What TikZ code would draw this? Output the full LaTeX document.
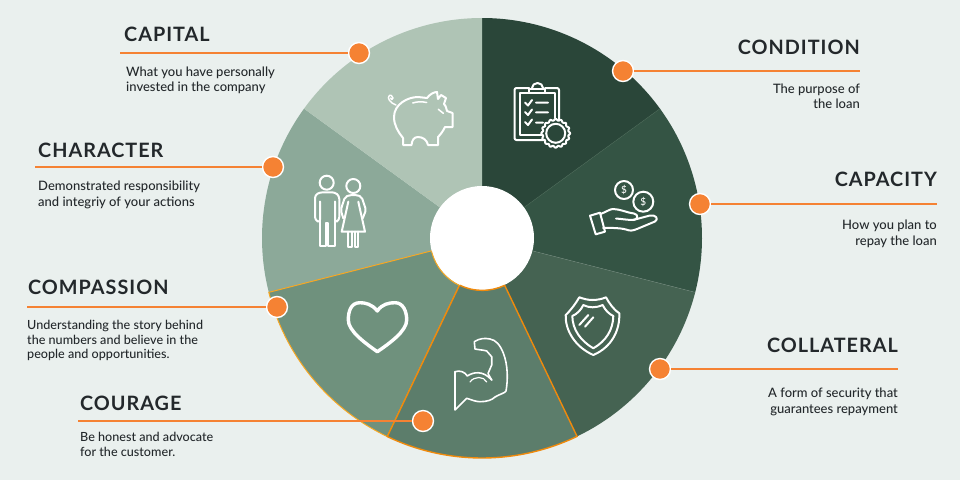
\documentclass[tikz,border=0pt]{standalone}
\usepackage{fontspec}
\setmainfont{Lato}
\newfontfamily\headfont[LetterSpace=5]{Lato Bold}
\newfontfamily\bodyfont{Lato Medium}
\usetikzlibrary{positioning}
\definecolor{paper}{HTML}{EAF0EE}
\definecolor{pinorange}{HTML}{F58233}
\definecolor{inktext}{HTML}{23282B}
\definecolor{seccond}{HTML}{2A4639}
\definecolor{seccapa}{HTML}{345444}
\definecolor{seccoll}{HTML}{456352}
\definecolor{seccour}{HTML}{5C7D6B}
\definecolor{seccomp}{HTML}{6F917D}
\definecolor{secchar}{HTML}{8CA999}
\definecolor{seccapi}{HTML}{AFC4B5}
\definecolor{edgeyellow}{HTML}{F7A823}
\definecolor{edgeorange}{HTML}{F08A0C}
\tikzset{
    head/.style={inner sep=0pt,text=inktext,font=\headfont\fontsize{19.8}{22}\selectfont},
    body/.style={inner sep=0pt,text=inktext,font=\bodyfont\fontsize{13}{15.2}\selectfont},
    smallbody/.style={body,font=\bodyfont\fontsize{12.6}{14.7}\selectfont},
    pin/.style={circle,fill=pinorange,draw=white,line width=1.4pt,minimum size=21pt,inner sep=0pt},
    leader/.style={draw=pinorange,line width=2pt},
    icon/.style={draw=white,line width=2pt,line join=round,line cap=round},
    coin/.style={icon,circle,inner sep=0pt,text=white,font=\bodyfont\fontsize{10}{10}\selectfont},
}
\begin{document}
\begin{tikzpicture}[x=1pt,y=-1pt,node distance=18pt]
    \useasboundingbox (0,0) rectangle (960,480);
    \fill[paper] (0,0) rectangle (960,480);
    % wheel
    \fill[seccond] (482,238) -- ++(-90:220) arc (-90:-36:220) -- cycle;
    \fill[seccapa] (482,238) -- ++(-36:220) arc (-36:14.3:220) -- cycle;
    \fill[seccoll] (482,238) -- ++(14.3:220) arc (14.3:64.4:220) -- cycle;
    \fill[secchar] (482,238) -- ++(165.7:220) arc (165.7:216:220) -- cycle;
    \fill[seccapi] (482,238) -- ++(216:220) arc (216:270:220) -- cycle;
    \filldraw[fill=seccomp,draw=edgeyellow,line width=1pt] (482,238) -- ++(115.5:220) arc (115.5:165.7:220) -- cycle;
    \filldraw[fill=seccour,draw=edgeorange,line width=1.4pt] (482,238) -- ++(64.4:220) arc (64.4:115.5:220) -- cycle;
    \draw[seccoll,line width=.5pt] (482,238) -- ++(-36:220);
    \draw[seccoll!80!white,line width=.4pt] (482,238) -- ++(14.3:220);
    \node[circle,fill=white,minimum size=104pt,inner sep=0pt] (hub) at (482,238) {};
    \draw[edgeyellow,line width=1pt] (hub.-165.7) arc (165.7:115.5:52);
    \draw[edgeorange,line width=1.4pt] (hub.-115.5) arc (115.5:64.4:52);
    % clipboard
    \draw[icon,rounded corners=2pt] (529,88) -- (514.5,88) -- (514.5,140) -- (549,140);
    \draw[icon,rounded corners=2pt] (545,88) -- (559,88) -- (559,120);
    \draw[icon] (529,93) rectangle (545,88.5);
    \draw[icon] (532,88) arc (180:360:5.5 and 5);
    \draw[icon] (529,93) -- (520,93) -- (520,135) -- (543,135);
    \draw[icon] (545,93) -- (555,93) -- (555,118);
    \draw[icon] (525,102.5) -- (528,105.5) -- (532,100) (536,102.7) -- (548,102.7);
    \draw[icon] (525,112) -- (528,115) -- (532,109.5) (536,112.3) -- (548,112.3);
    \draw[icon] (525,122) -- (528,125) -- (532,119.5) (536,122.7) -- (543,122.7);
    \draw[icon,fill=seccond] plot[domain=0:360,samples=129,smooth] ({555.7+(13.6+.8*cos(16*\x))*cos(\x)},{133.3+(13.6+.8*cos(16*\x))*sin(\x)}) -- cycle;
    \draw[icon] (555.7,133.3) circle (9.5);
    % hand and coins
    \node[coin,minimum size=18pt] (coin_a) at (624,190) {\$};
    \node[coin,minimum size=20pt] (coin_b) at (643.3,201.7) {\$};
    \draw[icon] (590,215.7) -- (600,212.7) -- (605,231.7) -- (595.7,234.3) -- cycle;
    \draw[icon] (600.5,214) .. controls (606,212) and (610,209) .. (613,209) .. controls (620,209) and (628,213) .. (634,213.5) .. controls (639,214.5) and (638,220) .. (633,220) .. controls (628,220) and (622,219) .. (616,218.5);
    \draw[icon] (633,220) -- (650,215.5) .. controls (656,214.5) and (659,219) .. (655,221.5) -- (637,229) .. controls (632,231) and (630,231) .. (626,229.5) .. controls (618,227.5) and (611,228) .. (603,228);
    % shield
    \draw[icon] (579.3,297.3) .. controls (584,299) and (588,300) .. (592.7,300) .. controls (597,300) and (602,299) .. (606,297.3) .. controls (609,303) and (614,310) .. (619.3,313.3) .. controls (620,330) and (612,347) .. (593.3,355) .. controls (575,347) and (565,330) .. (565.7,315) .. controls (571,310) and (576,303) .. (579.3,297.3) -- cycle;
    \draw[icon] (583.3,305) .. controls (587,306.5) and (589,307.3) .. (592.7,307.3) .. controls (596,307.3) and (599,306.5) .. (602.7,305) .. controls (605,310) and (609,314) .. (613.3,316) .. controls (613,330) and (606,341) .. (593.3,348.3) .. controls (581,341) and (572.5,330) .. (572.3,316) .. controls (577,314) and (581,310) .. (583.3,305) -- cycle;
    \draw[icon] (579.3,325) -- (588.3,315) (585,326.7) -- (593.3,317.3);
    % muscle
    \draw[icon,line width=1.6pt] (455,371.7) -- (455,410) -- (466.7,398.3) .. controls (472,400) and (476,401.7) .. (480,401.7) .. controls (487,401.7) and (492,400) .. (495,397) .. controls (500,394) and (505,393) .. (506,391) .. controls (508,380) and (508,365) .. (503.3,353) .. controls (500,345) and (496,340) .. (490,339) .. controls (485,338) and (480,338) .. (474.3,341.7) -- (475,349) .. controls (480,350) and (484,350) .. (486.7,351) -- (491.7,356.7) -- (491.7,365) -- (488,373.5) -- (491.7,380);
    \draw[icon,line width=1.6pt] (455,371.7) .. controls (460,370) and (465,372) .. (467.3,376) .. controls (473,372) and (483,370) .. (491.7,380);
    \draw[icon,line width=1.2pt] (470,382) .. controls (474,376) and (484,376) .. (486.7,382);
    % heart
    \draw[icon,line width=3.4pt] (377.3,311) .. controls (372,304) and (365,302.7) .. (360,302.7) .. controls (351,302.7) and (348.3,311) .. (348.3,320) .. controls (348.3,331) and (365,343) .. (377.3,351.7) .. controls (390,343) and (406.7,331) .. (406.7,320) .. controls (406.7,311) and (403,302.7) .. (395,302.7) .. controls (389,302.7) and (382,304) .. (377.3,311) -- cycle;
    % couple
    \draw[icon] (326.7,182.7) circle (7) (353.3,186) circle (7);
    \draw[icon,rounded corners=3pt] (320,201.7) -- (320,222.7) -- (315,220) -- (315,195) -- (320,192.3) -- (335,192.3) -- (339.3,196) -- (339.3,220) -- (335,222.7) -- (335,201.7);
    \draw[icon] (320,201.7) -- (320,246) -- (326,246) -- (326,223.3) -- (328.3,223.3) -- (328.3,246) -- (335,246) -- (335,201.7);
    \draw[icon] (348.3,201.7) -- (341.7,231.7) -- (365,231.7) -- (358.3,201.7);
    \draw[icon,rounded corners=2pt] (343.3,218.3) -- (340.7,210) -- (345,197) -- (350,195) -- (357,195) -- (361.7,197) -- (366,210) -- (362.7,218.3);
    \draw[icon] (348.3,231.7) -- (348.3,246.7) -- (351.7,246.7) -- (351.7,231.7) (355,231.7) -- (355,246.7) -- (358.3,246.7) -- (358.3,231.7);
    % piggy
    \draw[icon] (403,144) -- (403,138) .. controls (398,132) and (394,125) .. (394,117) .. controls (394,104) and (408,97) .. (418,97) -- (427,98) .. controls (430,94) and (434,92) .. (437,92) -- (438,99) -- (441,95) -- (446,98) -- (444,104) .. controls (447,107) and (446,110) .. (447,111) -- (452.5,113) -- (452.5,127) -- (445,127) .. controls (443,131) and (441,134) .. (438,137) -- (438,145) -- (428,145) .. controls (427,140) and (423,137) .. (418,137) .. controls (414,137) and (412,140) .. (411.5,145) -- (403,145) -- cycle;
    \draw[icon,line width=1.5pt] (412.7,103) .. controls (417,101.5) and (422,101.5) .. (426.7,102.5);
    \draw[icon,line width=1.5pt] (438.3,109.3) -- (443.3,113.3);
    \draw[icon,line width=1.4pt] (396,105) .. controls (390,103) and (387,98) .. (389,96) .. controls (390,94) and (393,96) .. (393,98) .. controls (393,100) and (391,100) .. (390.5,98);
    % leaders
    \node[pin] (capital_dot) at (359,53) {};
    \coordinate (capital_end) at (120,53);
    \draw[leader] (capital_end) -- (capital_dot);
    \node[pin] (condition_dot) at (623,71) {};
    \coordinate (condition_end) at (860,71);
    \draw[leader] (condition_dot) -- (condition_end);
    \node[pin] (character_dot) at (273,167) {};
    \coordinate (character_end) at (35,167);
    \draw[leader] (character_end) -- (character_dot);
    \node[pin] (capacity_dot) at (700,204) {};
    \coordinate (capacity_end) at (937,204);
    \draw[leader] (capacity_dot) -- (capacity_end);
    \node[pin] (compassion_dot) at (277,307) {};
    \coordinate (compassion_end) at (27,307);
    \draw[leader] (compassion_end) -- (compassion_dot);
    \node[pin] (collateral_dot) at (660,369) {};
    \coordinate (collateral_end) at (898,369);
    \draw[leader] (collateral_dot) -- (collateral_end);
    \node[pin] (courage_dot) at (423,421) {};
    \coordinate (courage_end) at (78,421);
    \draw[leader] (courage_end) -- (courage_dot);
    % labels
    \node[head,anchor=west] (capital) at (124,34) {CAPITAL};
    \node[body,align=left,anchor=north west] (capital_txt) at (126,67) {What you have personally\\invested in the company};
    \node[head,anchor=east] (condition) at (860,47) {CONDITION};
    \node[body,align=right,anchor=north east] (condition_txt) at (860,84) {The purpose of\\the loan};
    \node[head,anchor=west] (character) at (38,150) {CHARACTER};
    \node[body,align=left,anchor=north west] (character_txt) at (38,181) {Demonstrated responsibility\\and integriy of your actions};
    \node[head,anchor=east] (capacity) at (937,179) {CAPACITY};
    \node[body,align=right,anchor=north east] (capacity_txt) at (937,220) {How you plan to\\repay the loan};
    \node[head,anchor=west] (compassion) at (28,287) {COMPASSION};
    \node[smallbody,align=left,anchor=north west] (compassion_txt) at (27,320) {Understanding the story behind\\the numbers and believe in the\\people and opportunities.};
    \node[head,anchor=east] (collateral) at (898,345) {COLLATERAL};
    \node[body,align=right,anchor=north east] (collateral_txt) at (898,388) {A form of security that\\guarantees repayment};
    \node[head,anchor=west] (courage) at (80,403) {COURAGE};
    \node[smallbody,align=left,anchor=north west] (courage_txt) at (80,432) {Be honest and advocate\\for the customer.};
\end{tikzpicture}
\end{document}
